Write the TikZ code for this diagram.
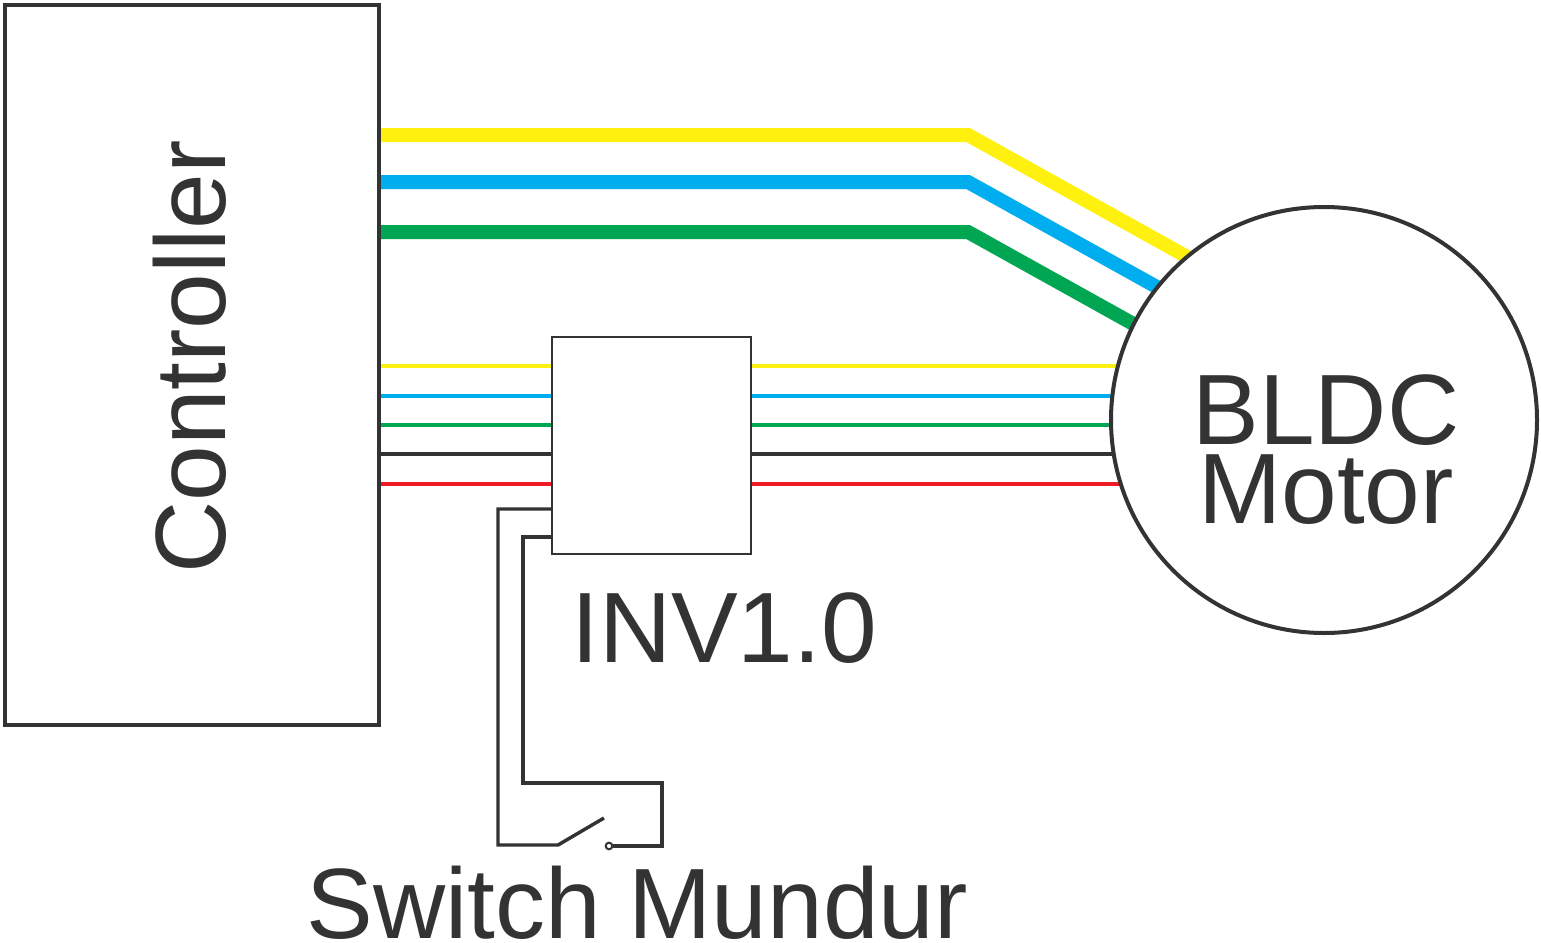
\documentclass[tikz,border=0pt]{standalone}
\usepackage{fontspec}
\setmainfont{Liberation Sans}
\definecolor{dk}{HTML}{333333}
\definecolor{yl}{HTML}{FFF10F}
\definecolor{bl}{HTML}{00AEEF}
\definecolor{gn}{HTML}{00A651}
\definecolor{rd}{HTML}{ED1C24}
\tikzset{thick wire/.style={line width=10.5pt},thin wire/.style={line width=2.6pt},
 dk line/.style={draw=dk,line width=2.6pt},
 lbl/.style={text=dk,font=\fontsize{75}{80}\selectfont,inner sep=0pt}}
\begin{document}
\begin{tikzpicture}[x=0.75pt,y=-0.75pt]
\useasboundingbox (0,0) rectangle (1541,942);
% thick wires
\draw[thick wire,yl] (379,135) -- (968,135) -- (1324,333);
\draw[thick wire,bl] (379,182) -- (968,182) -- (1324,380);
\draw[thick wire,gn] (379,232) -- (968,232) -- (1324,430);
% thin wires
\foreach \y/\c in {366/yl,396/bl,425/gn,454/dk,484/rd}{
  \draw[thin wire,\c] (379,\y) -- (1200,\y);}
% motor
\node[circle,draw=dk,fill=white,line width=3pt,minimum size=426*0.75pt] (m) at (1324,420) {};
\node[lbl,anchor=base] (b1) at (1326,444) {BLDC};
\node[lbl,anchor=base] (b2) at (1326,523) {Motor};
% controller
\node[draw=dk,line width=3pt,minimum width=374*0.75pt,minimum height=720*0.75pt,fill=none] (c) at (192,365) {};
\node[lbl,rotate=90] (ct1) at (190,357) {Controller};
% INV box
\node[draw=dk,fill=white,line width=1.5pt,minimum width=199*0.75pt,minimum height=217*0.75pt] (inv) at (651.5,445.5) {};
\node[lbl,anchor=base west] (il) at (571,662) {INV1.0};
% switch
\coordinate (s1) at (558,845);
\coordinate (s2) at (604,818);
\node[circle,draw=dk,line width=1.5pt,fill=white,inner sep=0pt,minimum size=5pt] (ct) at (609,846) {};
\draw[dk line] (inv.west |- 0,509) -- (498,509) -- (498,845) -- (s1) -- (s2);
\draw[dk line] (ct) -- (662,846) -- (662,783) -- (523,783) -- (523,537) -- (inv.west |- 0,537);
\node[lbl,anchor=base] (sl) at (637,938) {Switch Mundur};
\end{tikzpicture}
\end{document}
